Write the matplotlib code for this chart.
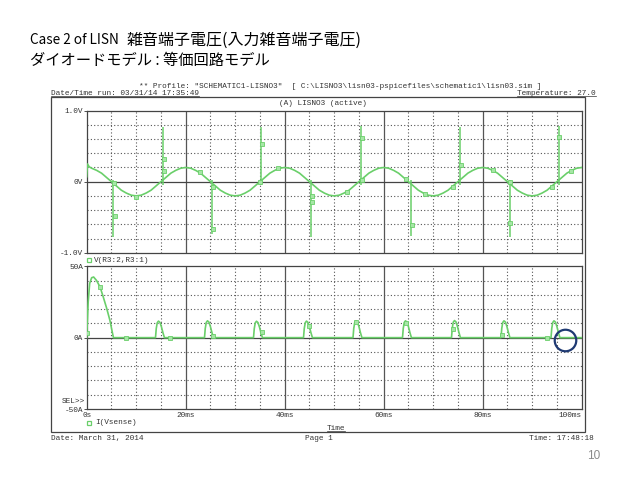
import matplotlib
matplotlib.use("Agg")
import matplotlib.pyplot as plt
from matplotlib.lines import Line2D
from matplotlib.patches import Rectangle

# ---- data ----
# V(R3:2,R3:1), volts, sampled every 1 ms (plus the start-up step)
v_time = [0, 0.15, 0.5] + list(range(1, 101))
v_vals = [0.07, 0.25, 0.21,
          0.19, 0.16, 0.12, 0.06, 0.00, -0.06, -0.12, -0.16, -0.19,
          -0.20, -0.19, -0.16, -0.12, -0.06, 0.00, 0.06, 0.12, 0.16, 0.19,
          0.20, 0.19, 0.16, 0.12, 0.06, 0.00, -0.06, -0.12, -0.16, -0.19,
          -0.20, -0.19, -0.16, -0.12, -0.06, 0.00, 0.06, 0.12, 0.16, 0.19,
          0.20, 0.19, 0.16, 0.12, 0.06, 0.00, -0.06, -0.12, -0.16, -0.19,
          -0.20, -0.19, -0.16, -0.12, -0.06, 0.00, 0.06, 0.12, 0.16, 0.19,
          0.20, 0.19, 0.16, 0.12, 0.06, 0.00, -0.06, -0.12, -0.16, -0.19,
          -0.20, -0.19, -0.16, -0.12, -0.06, 0.00, 0.06, 0.12, 0.16, 0.19,
          0.20, 0.19, 0.16, 0.12, 0.06, 0.00, -0.06, -0.12, -0.16, -0.19,
          -0.20, -0.19, -0.16, -0.12, -0.06, 0.00, 0.06, 0.12, 0.16, 0.19,
          0.20]

# switching spikes on the voltage trace
spike_t = [5.4, 15.4, 25.4, 35.3, 45.4, 55.5, 65.5, 75.5, 85.5, 95.4]
spike_base = [0.02, -0.05, 0.02, -0.05, 0.02, -0.05, 0.02, -0.05, 0.02, -0.05]
spike_peak = [-0.78, 0.77, -0.73, 0.77, -0.78, 0.79, -0.77, 0.77, -0.78, 0.79]

# symbol markers on the voltage trace
v_mark_t = [5.5, 5.7, 9.9, 15.6, 15.6, 22.8, 25.6, 25.5, 35.5, 35.0, 38.7, 45.5,
            45.5, 52.5, 55.7, 55.7, 64.5, 65.7, 68.3, 75.6, 74.1, 82.0, 85.5,
            85.5, 94.1, 95.5, 97.8]
v_mark_v = [-0.02, -0.49, -0.21, 0.32, 0.15, 0.13, -0.07, -0.66, 0.53, 0.00, 0.19,
            -0.20, -0.28, -0.15, 0.61, 0.03, 0.04, -0.61, -0.18, 0.23, -0.07, 0.17,
            0.00, -0.58, -0.07, 0.63, 0.15]

# I(Vsense), amps: inrush pulse then one small pulse every 10 ms
inrush_t = [0, 0.3, 0.6, 1.0, 1.4, 2.0, 2.7, 3.3, 4.0, 4.7, 5.1, 5.4]
inrush_i = [0, 25, 38, 42, 42.5, 40, 35.5, 29, 21, 12, 5, 0]
pulse_start = [13.9, 23.8, 33.7, 43.8, 53.8, 63.8, 73.7, 83.7, 93.8]
pulse_peak = [11.6, 11.8, 11.5, 11.6, 11.8, 11.8, 12.0, 11.8, 11.8]
pulse_dt = [0, 0.15, 0.35, 0.6, 0.9, 1.2, 1.5, 1.8]
pulse_shape = [0, 0.55, 0.9, 1.0, 0.92, 0.65, 0.3, 0]

i_mark_t = [0.1, 2.7, 7.9, 16.8, 25.6, 35.4, 45.0, 54.5, 64.5, 74.1, 83.8, 92.9]
i_mark_i = [3.2, 35.5, 0, 0, 1, 4, 8, 11, 10, 6.3, 1.6, 0]

# highlighted point
circle_t, circle_i = [96.6], [-1.4]

x_ticks = [0, 20, 40, 60, 80, 100]
x_labels = ["0s", "20ms", "40ms", "60ms", "80ms", "100ms"]

# build the current waveform from the pieces above
i_time = list(inrush_t)
i_vals = list(inrush_i)
for s, pk in zip(pulse_start, pulse_peak):
    i_time += [s + d for d in pulse_dt]
    i_vals += [pk * f for f in pulse_shape]
i_time.append(100)
i_vals.append(0)

# ---- drawing ----
W, H = 638, 478
green = "#6acf6a"
mono = "Liberation Mono"
tcol = "#333333"


def fx(x):
    return x / W


def fy(y):
    return 1 - y / H


fig = plt.figure(figsize=(W / 100, H / 100), dpi=100)
fig.patch.set_facecolor("white")

plt.rcParams["font.family"] = ["Noto Sans CJK JP", "DejaVu Sans"]

# slide title
fig.text(fx(30), fy(40.5), "Case 2 of LISN", fontsize=9.8, va="center", ha="left",
         color="black")
fig.text(fx(127), fy(40), "雑音端子電圧(入力雑音端子電圧)",
         fontsize=11.5, va="center", ha="left", color="black")
fig.text(fx(30), fy(60.5), "ダイオードモデル : 等価回路モデル",
         fontsize=11, va="center", ha="left", color="black")
fig.text(fx(594), fy(456), "10", fontsize=8.5, color="#8a8a8a",
         ha="center", va="center", family=["Liberation Sans"])

# pspice window frame
fig.add_artist(Rectangle((fx(51), fy(432)), (584.5 - 51) / W, (432 - 97.3) / H,
                         transform=fig.transFigure, fill=False,
                         edgecolor="#444444", lw=0.9))

hdr = dict(family=mono, fontsize=5.6, color=tcol, va="center")
fig.text(fx(139), fy(87),
         '** Profile: "SCHEMATIC1-LISNO3"  [ C:\\LISNO3\\lisn03-pspicefiles\\schematic1\\lisn03.sim ]',
         ha="left", **hdr)
fig.text(fx(51), fy(93.5), "Date/Time run: 03/31/14 17:35:49", ha="left", **hdr)
fig.text(fx(596), fy(93.5), "Temperature: 27.0", ha="right", **hdr)
fig.add_artist(Line2D([fx(51), fx(199)], [fy(96), fy(96)], transform=fig.transFigure,
                      color=tcol, lw=0.5))
fig.add_artist(Line2D([fx(517), fx(596)], [fy(96), fy(96)], transform=fig.transFigure,
                      color=tcol, lw=0.5))
fig.text(fx(323), fy(103.5), "(A) LISNO3 (active)", ha="center", **hdr)
fig.text(fx(51), fy(438.5), "Date: March 31, 2014", ha="left", **hdr)
fig.text(fx(319), fy(438.5), "Page 1", ha="center", **hdr)
fig.text(fx(594), fy(438.5), "Time: 17:48:18", ha="right", **hdr)
fig.text(fx(336), fy(428.5), "Time", ha="center", **hdr)
fig.add_artist(Line2D([fx(327), fx(345)], [fy(431), fy(431)], transform=fig.transFigure,
                      color=tcol, lw=0.5))

# legend entries
fig.add_artist(Line2D([fx(89)], [fy(259.5)], transform=fig.transFigure, marker="s",
                      ms=3, mfc="none", mec=green, mew=0.9))
fig.text(fx(94), fy(260), "V(R3:2,R3:1)", ha="left", **hdr)
fig.add_artist(Line2D([fx(89)], [fy(422.5)], transform=fig.transFigure, marker="s",
                      ms=3, mfc="none", mec=green, mew=0.9))
fig.text(fx(95), fy(423), "I(Vsense)", ha="left", **hdr)

ax_w = (581.7 - 86.7) / W
ax_v = fig.add_axes([fx(86.7), fy(252.7), ax_w, (252.7 - 110.7) / H])
ax_i = fig.add_axes([fx(86.7), fy(409), ax_w, (409 - 266.3) / H])


def style_grid(ax, y_lo, y_hi, y_step):
    ax.set_xlim(0, 100)
    ax.set_ylim(y_lo, y_hi)
    for t in range(5, 100, 5):
        if t % 20 == 0:
            ax.axvline(t, color="#555555", lw=0.9, zorder=1)
        else:
            ax.axvline(t, color="#555555", lw=0.8, ls=(0, (1, 2)), zorder=1)
    n = int(round((y_hi - y_lo) / y_step))
    for k in range(1, n):
        y = y_lo + k * y_step
        if abs(y) < 1e-9:
            ax.axhline(0, color="#444444", lw=0.9, zorder=1)
        else:
            ax.axhline(y, color="#555555", lw=0.8, ls=(0, (1, 2)), zorder=1)
    for s in ax.spines.values():
        s.set_color("#444444")
        s.set_linewidth(0.9)
    ax.tick_params(axis="y", length=2, width=0.6, pad=0.5, colors=tcol,
                   labelsize=5.6, labelfontfamily=mono)
    ax.tick_params(axis="x", length=0, pad=2, colors=tcol,
                   labelsize=5.6, labelfontfamily=mono)


style_grid(ax_v, -1.0, 1.0, 0.2)
ax_v.set_yticks([-1.0, 0, 1.0], ["-1.0V", "0V", "1.0V"])
ax_v.set_xticks([])
ax_v.plot(v_time, v_vals, color=green, lw=1.2, zorder=3)
ax_v.vlines(spike_t, spike_base, spike_peak, color=green, lw=1.1, zorder=3)
ax_v.plot(v_mark_t, v_mark_v, ls="none", marker="s", ms=2.6, mfc="#a6e6a6",
          mec=green, mew=0.6, zorder=4)

style_grid(ax_i, -50, 50, 10)
ax_i.set_yticks([-50, 0, 50], ["-50A", "0A", "50A"])
ax_i.set_xticks(x_ticks, x_labels)
ax_i.get_xticklabels()[-1].set_horizontalalignment("right")
ax_i.plot(i_time, i_vals, color=green, lw=1.2, zorder=3)
ax_i.plot(i_mark_t, i_mark_i, ls="none", marker="s", ms=2.6, mfc="#a6e6a6",
          mec=green, mew=0.6, zorder=4)
ax_i.plot(circle_t, circle_i, ls="none", marker="o", ms=15.5, mfc="none",
          mec="#1f3a73", mew=1.6, zorder=5, clip_on=False)
fig.text(fx(85), fy(401.5), "SEL>>", ha="right", **hdr)

fig.savefig("out.png", dpi=100)
